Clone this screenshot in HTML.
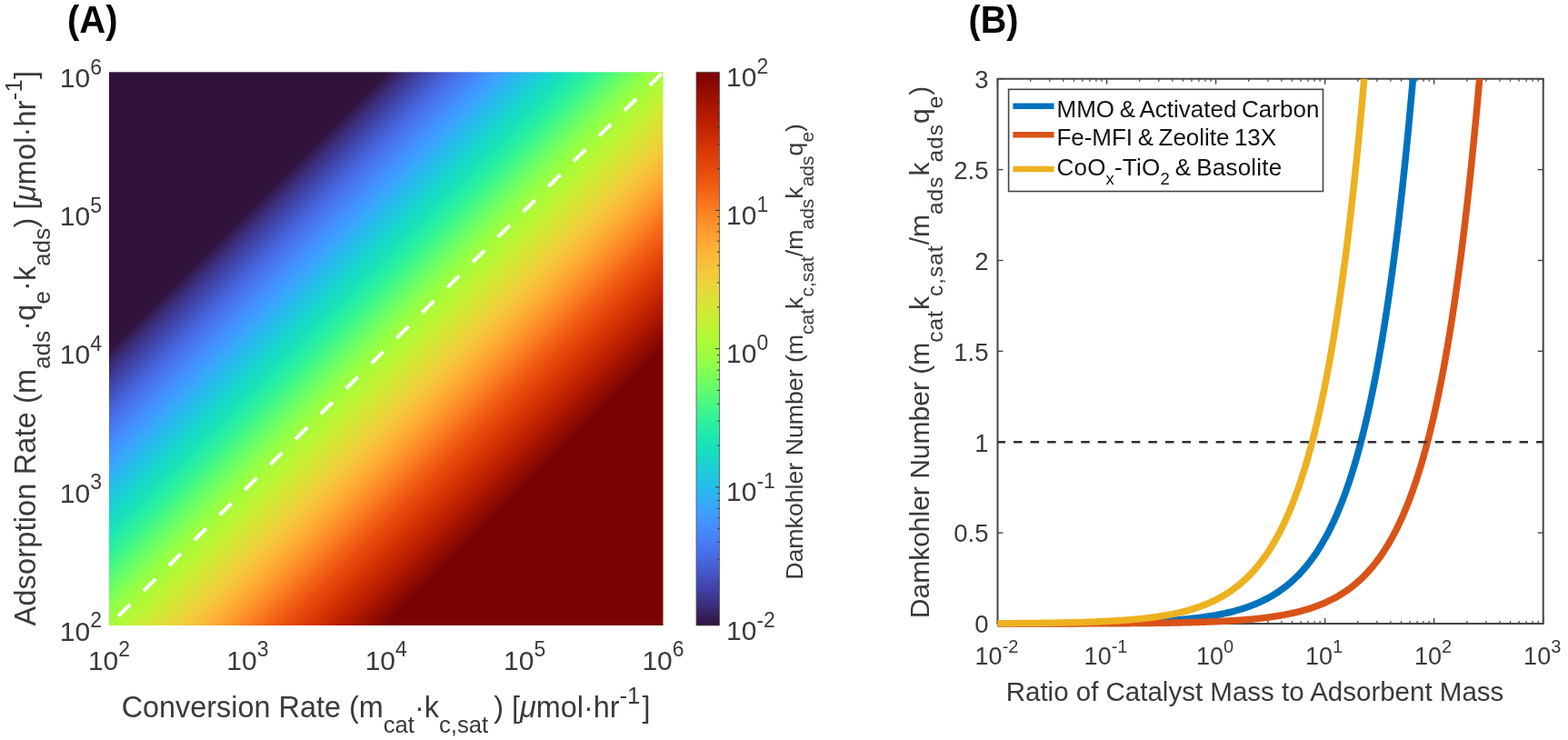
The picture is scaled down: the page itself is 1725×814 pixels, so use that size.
<!DOCTYPE html>
<html><head><meta charset="utf-8"><title>Figure</title>
<style>html,body{margin:0;padding:0;background:#fff;overflow:hidden}svg{display:block}
text{font-family:'Liberation Sans', Arial, sans-serif}</style></head>
<body>
<svg width="1725" height="814" viewBox="0 0 1725 814">
<defs>
<linearGradient id="hm" gradientUnits="userSpaceOnUse" x1="120.00" y1="79.30" x2="728.70" y2="688.80">
<stop offset="0" stop-color="#30123b"/><stop offset="0.2500" stop-color="#30123b"/><stop offset="0.2578" stop-color="#351e58"/><stop offset="0.2656" stop-color="#392a73"/><stop offset="0.2734" stop-color="#3d358b"/><stop offset="0.2812" stop-color="#4040a2"/><stop offset="0.2891" stop-color="#424bb5"/><stop offset="0.2969" stop-color="#4456c7"/><stop offset="0.3047" stop-color="#4661d6"/><stop offset="0.3125" stop-color="#466be3"/><stop offset="0.3203" stop-color="#4776ee"/><stop offset="0.3281" stop-color="#4680f6"/><stop offset="0.3359" stop-color="#458afc"/><stop offset="0.3438" stop-color="#4294ff"/><stop offset="0.3516" stop-color="#3d9efe"/><stop offset="0.3594" stop-color="#37a8fa"/><stop offset="0.3672" stop-color="#2fb2f4"/><stop offset="0.3750" stop-color="#28bceb"/><stop offset="0.3828" stop-color="#22c5e2"/><stop offset="0.3906" stop-color="#1ccdd8"/><stop offset="0.3984" stop-color="#19d5cd"/><stop offset="0.4062" stop-color="#18ddc2"/><stop offset="0.4141" stop-color="#19e3b9"/><stop offset="0.4219" stop-color="#1fe9af"/><stop offset="0.4297" stop-color="#27eea4"/><stop offset="0.4375" stop-color="#32f298"/><stop offset="0.4453" stop-color="#3ff68a"/><stop offset="0.4531" stop-color="#4ef97d"/><stop offset="0.4609" stop-color="#5dfc6f"/><stop offset="0.4688" stop-color="#6dfe62"/><stop offset="0.4766" stop-color="#7dff56"/><stop offset="0.4844" stop-color="#8bff4b"/><stop offset="0.4922" stop-color="#99fe42"/><stop offset="0.5000" stop-color="#a4fc3c"/><stop offset="0.5078" stop-color="#affa37"/><stop offset="0.5156" stop-color="#b9f635"/><stop offset="0.5234" stop-color="#c3f134"/><stop offset="0.5312" stop-color="#cdec34"/><stop offset="0.5391" stop-color="#d7e535"/><stop offset="0.5469" stop-color="#dfdf37"/><stop offset="0.5547" stop-color="#e7d739"/><stop offset="0.5625" stop-color="#eecf3a"/><stop offset="0.5703" stop-color="#f4c73a"/><stop offset="0.5781" stop-color="#f8be39"/><stop offset="0.5859" stop-color="#fbb637"/><stop offset="0.5938" stop-color="#fdac34"/><stop offset="0.6016" stop-color="#fea130"/><stop offset="0.6094" stop-color="#fe962b"/><stop offset="0.6172" stop-color="#fd8a26"/><stop offset="0.6250" stop-color="#fb7e21"/><stop offset="0.6328" stop-color="#f8721c"/><stop offset="0.6406" stop-color="#f46617"/><stop offset="0.6484" stop-color="#f05b12"/><stop offset="0.6562" stop-color="#eb500e"/><stop offset="0.6641" stop-color="#e5470b"/><stop offset="0.6719" stop-color="#df3f08"/><stop offset="0.6797" stop-color="#d83706"/><stop offset="0.6875" stop-color="#d02f05"/><stop offset="0.6953" stop-color="#c82803"/><stop offset="0.7031" stop-color="#be2102"/><stop offset="0.7109" stop-color="#b41b01"/><stop offset="0.7188" stop-color="#a91601"/><stop offset="0.7266" stop-color="#9e1001"/><stop offset="0.7344" stop-color="#920b01"/><stop offset="0.7422" stop-color="#850702"/><stop offset="0.7500" stop-color="#7a0403"/><stop offset="1" stop-color="#7a0403"/>
</linearGradient>
<linearGradient id="cb" x1="0" y1="0" x2="0" y2="1">
<stop offset="0.0000" stop-color="#7a0403"/><stop offset="0.0156" stop-color="#850702"/><stop offset="0.0312" stop-color="#920b01"/><stop offset="0.0469" stop-color="#9e1001"/><stop offset="0.0625" stop-color="#a91601"/><stop offset="0.0781" stop-color="#b41b01"/><stop offset="0.0938" stop-color="#be2102"/><stop offset="0.1094" stop-color="#c82803"/><stop offset="0.1250" stop-color="#d02f05"/><stop offset="0.1406" stop-color="#d83706"/><stop offset="0.1562" stop-color="#df3f08"/><stop offset="0.1719" stop-color="#e5470b"/><stop offset="0.1875" stop-color="#eb500e"/><stop offset="0.2031" stop-color="#f05b12"/><stop offset="0.2188" stop-color="#f46617"/><stop offset="0.2344" stop-color="#f8721c"/><stop offset="0.2500" stop-color="#fb7e21"/><stop offset="0.2656" stop-color="#fd8a26"/><stop offset="0.2812" stop-color="#fe962b"/><stop offset="0.2969" stop-color="#fea130"/><stop offset="0.3125" stop-color="#fdac34"/><stop offset="0.3281" stop-color="#fbb637"/><stop offset="0.3438" stop-color="#f8be39"/><stop offset="0.3594" stop-color="#f4c73a"/><stop offset="0.3750" stop-color="#eecf3a"/><stop offset="0.3906" stop-color="#e7d739"/><stop offset="0.4062" stop-color="#dfdf37"/><stop offset="0.4219" stop-color="#d7e535"/><stop offset="0.4375" stop-color="#cdec34"/><stop offset="0.4531" stop-color="#c3f134"/><stop offset="0.4688" stop-color="#b9f635"/><stop offset="0.4844" stop-color="#affa37"/><stop offset="0.5000" stop-color="#a4fc3c"/><stop offset="0.5156" stop-color="#99fe42"/><stop offset="0.5312" stop-color="#8bff4b"/><stop offset="0.5469" stop-color="#7dff56"/><stop offset="0.5625" stop-color="#6dfe62"/><stop offset="0.5781" stop-color="#5dfc6f"/><stop offset="0.5938" stop-color="#4ef97d"/><stop offset="0.6094" stop-color="#3ff68a"/><stop offset="0.6250" stop-color="#32f298"/><stop offset="0.6406" stop-color="#27eea4"/><stop offset="0.6562" stop-color="#1fe9af"/><stop offset="0.6719" stop-color="#19e3b9"/><stop offset="0.6875" stop-color="#18ddc2"/><stop offset="0.7031" stop-color="#19d5cd"/><stop offset="0.7188" stop-color="#1ccdd8"/><stop offset="0.7344" stop-color="#22c5e2"/><stop offset="0.7500" stop-color="#28bceb"/><stop offset="0.7656" stop-color="#2fb2f4"/><stop offset="0.7812" stop-color="#37a8fa"/><stop offset="0.7969" stop-color="#3d9efe"/><stop offset="0.8125" stop-color="#4294ff"/><stop offset="0.8281" stop-color="#458afc"/><stop offset="0.8438" stop-color="#4680f6"/><stop offset="0.8594" stop-color="#4776ee"/><stop offset="0.8750" stop-color="#466be3"/><stop offset="0.8906" stop-color="#4661d6"/><stop offset="0.9062" stop-color="#4456c7"/><stop offset="0.9219" stop-color="#424bb5"/><stop offset="0.9375" stop-color="#4040a2"/><stop offset="0.9531" stop-color="#3d358b"/><stop offset="0.9688" stop-color="#392a73"/><stop offset="0.9844" stop-color="#351e58"/><stop offset="1.0000" stop-color="#30123b"/>
</linearGradient>
</defs>
<rect width="1725" height="814" fill="#fff"/>

<text x="74" y="35.5" font-size="42" font-weight="bold" fill="#050505" textLength="55.5" lengthAdjust="spacingAndGlyphs">(A)</text>
<text x="1065.5" y="35.5" font-size="42" font-weight="bold" fill="#050505" textLength="55" lengthAdjust="spacingAndGlyphs">(B)</text>
<rect x="120.0" y="79.3" width="609.50" height="608.70" fill="url(#hm)"/>
<line x1="120.0" y1="688.0" x2="729.5" y2="79.3" stroke="#fff" stroke-width="4.2" stroke-dasharray="18.5 20.84" stroke-dashoffset="-14.5" stroke-opacity="0.95"/>
<text x="120.00" y="737.00" font-size="30" text-anchor="middle" fill="#3a3a3a">10<tspan dy="-15.00" font-size="23">2</tspan></text>
<text x="272.38" y="737.00" font-size="30" text-anchor="middle" fill="#3a3a3a">10<tspan dy="-15.00" font-size="23">3</tspan></text>
<text x="424.75" y="737.00" font-size="30" text-anchor="middle" fill="#3a3a3a">10<tspan dy="-15.00" font-size="23">4</tspan></text>
<text x="577.12" y="737.00" font-size="30" text-anchor="middle" fill="#3a3a3a">10<tspan dy="-15.00" font-size="23">5</tspan></text>
<text x="729.50" y="737.00" font-size="30" text-anchor="middle" fill="#3a3a3a">10<tspan dy="-15.00" font-size="23">6</tspan></text>
<text x="112.00" y="704.70" font-size="30" text-anchor="end" fill="#3a3a3a">10<tspan dy="-14.50" font-size="23">2</tspan></text>
<text x="112.00" y="552.53" font-size="30" text-anchor="end" fill="#3a3a3a">10<tspan dy="-14.50" font-size="23">3</tspan></text>
<text x="112.00" y="400.35" font-size="30" text-anchor="end" fill="#3a3a3a">10<tspan dy="-14.50" font-size="23">4</tspan></text>
<text x="112.00" y="248.17" font-size="30" text-anchor="end" fill="#3a3a3a">10<tspan dy="-14.50" font-size="23">5</tspan></text>
<text x="112.00" y="96.00" font-size="30" text-anchor="end" fill="#3a3a3a">10<tspan dy="-14.50" font-size="23">6</tspan></text>
<text x="133.70" y="789.00" font-size="32.4" text-anchor="start" fill="#3a3a3a"><tspan >Conversion Rate (m</tspan><tspan dy="16.50" font-size="25.7">cat</tspan><tspan dy="-16.50">·k</tspan><tspan dy="16.50" font-size="25.7">c,sat</tspan><tspan dy="-16.50" dx="6.00">) [</tspan><tspan font-style="italic">μ</tspan><tspan >mol·hr</tspan><tspan dy="-15.00" font-size="25.7">-1</tspan><tspan dy="15.00" dx="2.00">]</tspan></text>
<text transform="translate(38.50,688.40) rotate(-90)" font-size="32.4" text-anchor="start" fill="#3a3a3a"><tspan letter-spacing="0.2">Adsorption Rate (m</tspan><tspan dy="16.50" font-size="25.7" letter-spacing="0.2">ads</tspan><tspan dy="-16.50" letter-spacing="0.2">·q</tspan><tspan dy="16.50" font-size="25.7" letter-spacing="0.2">e</tspan><tspan dy="-16.50" letter-spacing="0.2">·k</tspan><tspan dy="16.50" font-size="25.7" letter-spacing="0.2">ads</tspan><tspan dy="-16.50" letter-spacing="0.2">) [</tspan><tspan letter-spacing="0.2" font-style="italic">μ</tspan><tspan letter-spacing="0.2">mol·hr</tspan><tspan dy="-15.00" font-size="25.7" letter-spacing="0.2">-1</tspan><tspan dy="15.00" letter-spacing="0.2">]</tspan></text>
<rect x="766.0" y="79.3" width="25.5" height="608.70" fill="url(#cb)" stroke="#555" stroke-width="0.8"/>
<line x1="789.0" y1="642.19" x2="791.5" y2="642.19" stroke="#333" stroke-width="1"/>
<line x1="789.0" y1="615.39" x2="791.5" y2="615.39" stroke="#333" stroke-width="1"/>
<line x1="789.0" y1="596.38" x2="791.5" y2="596.38" stroke="#333" stroke-width="1"/>
<line x1="789.0" y1="581.63" x2="791.5" y2="581.63" stroke="#333" stroke-width="1"/>
<line x1="789.0" y1="569.58" x2="791.5" y2="569.58" stroke="#333" stroke-width="1"/>
<line x1="789.0" y1="559.40" x2="791.5" y2="559.40" stroke="#333" stroke-width="1"/>
<line x1="789.0" y1="550.57" x2="791.5" y2="550.57" stroke="#333" stroke-width="1"/>
<line x1="789.0" y1="542.79" x2="791.5" y2="542.79" stroke="#333" stroke-width="1"/>
<line x1="787.0" y1="535.83" x2="791.5" y2="535.83" stroke="#333" stroke-width="1"/>
<line x1="789.0" y1="490.02" x2="791.5" y2="490.02" stroke="#333" stroke-width="1"/>
<line x1="789.0" y1="463.22" x2="791.5" y2="463.22" stroke="#333" stroke-width="1"/>
<line x1="789.0" y1="444.21" x2="791.5" y2="444.21" stroke="#333" stroke-width="1"/>
<line x1="789.0" y1="429.46" x2="791.5" y2="429.46" stroke="#333" stroke-width="1"/>
<line x1="789.0" y1="417.41" x2="791.5" y2="417.41" stroke="#333" stroke-width="1"/>
<line x1="789.0" y1="407.22" x2="791.5" y2="407.22" stroke="#333" stroke-width="1"/>
<line x1="789.0" y1="398.40" x2="791.5" y2="398.40" stroke="#333" stroke-width="1"/>
<line x1="789.0" y1="390.61" x2="791.5" y2="390.61" stroke="#333" stroke-width="1"/>
<line x1="787.0" y1="383.65" x2="791.5" y2="383.65" stroke="#333" stroke-width="1"/>
<line x1="789.0" y1="337.84" x2="791.5" y2="337.84" stroke="#333" stroke-width="1"/>
<line x1="789.0" y1="311.04" x2="791.5" y2="311.04" stroke="#333" stroke-width="1"/>
<line x1="789.0" y1="292.03" x2="791.5" y2="292.03" stroke="#333" stroke-width="1"/>
<line x1="789.0" y1="277.28" x2="791.5" y2="277.28" stroke="#333" stroke-width="1"/>
<line x1="789.0" y1="265.23" x2="791.5" y2="265.23" stroke="#333" stroke-width="1"/>
<line x1="789.0" y1="255.05" x2="791.5" y2="255.05" stroke="#333" stroke-width="1"/>
<line x1="789.0" y1="246.22" x2="791.5" y2="246.22" stroke="#333" stroke-width="1"/>
<line x1="789.0" y1="238.44" x2="791.5" y2="238.44" stroke="#333" stroke-width="1"/>
<line x1="787.0" y1="231.47" x2="791.5" y2="231.47" stroke="#333" stroke-width="1"/>
<line x1="789.0" y1="185.67" x2="791.5" y2="185.67" stroke="#333" stroke-width="1"/>
<line x1="789.0" y1="158.87" x2="791.5" y2="158.87" stroke="#333" stroke-width="1"/>
<line x1="789.0" y1="139.86" x2="791.5" y2="139.86" stroke="#333" stroke-width="1"/>
<line x1="789.0" y1="125.11" x2="791.5" y2="125.11" stroke="#333" stroke-width="1"/>
<line x1="789.0" y1="113.06" x2="791.5" y2="113.06" stroke="#333" stroke-width="1"/>
<line x1="789.0" y1="102.87" x2="791.5" y2="102.87" stroke="#333" stroke-width="1"/>
<line x1="789.0" y1="94.05" x2="791.5" y2="94.05" stroke="#333" stroke-width="1"/>
<line x1="789.0" y1="86.26" x2="791.5" y2="86.26" stroke="#333" stroke-width="1"/>
<text x="799.00" y="703.50" font-size="30" text-anchor="start" fill="#3a3a3a">10<tspan dy="-14.00" font-size="23">-2</tspan></text>
<text x="799.00" y="551.33" font-size="30" text-anchor="start" fill="#3a3a3a">10<tspan dy="-14.00" font-size="23">-1</tspan></text>
<text x="799.00" y="399.15" font-size="30" text-anchor="start" fill="#3a3a3a">10<tspan dy="-14.00" font-size="23">0</tspan></text>
<text x="799.00" y="246.97" font-size="30" text-anchor="start" fill="#3a3a3a">10<tspan dy="-14.00" font-size="23">1</tspan></text>
<text x="799.00" y="94.80" font-size="30" text-anchor="start" fill="#3a3a3a">10<tspan dy="-14.00" font-size="23">2</tspan></text>
<text transform="translate(883.00,637.80) rotate(-90)" font-size="26.7" text-anchor="start" fill="#3a3a3a"><tspan >Damkohler Number (m</tspan><tspan dy="12.30" font-size="21">cat</tspan><tspan dy="-12.30">k</tspan><tspan dy="12.30" font-size="21">c,sat</tspan><tspan dy="-12.30">/m</tspan><tspan dy="12.30" font-size="21">ads</tspan><tspan dy="-12.30">k</tspan><tspan dy="12.30" font-size="21">ads</tspan><tspan dy="-12.30">q</tspan><tspan dy="12.30" font-size="21">e</tspan><tspan dy="-12.30">)</tspan></text>
<rect x="1097.5" y="86.7" width="600.20" height="599.30" fill="none" stroke="#454545" stroke-width="2"/>
<line x1="1097.50" y1="686.0" x2="1097.50" y2="680.0" stroke="#454545" stroke-width="1.4"/>
<line x1="1097.50" y1="86.7" x2="1097.50" y2="92.7" stroke="#454545" stroke-width="1.4"/>
<line x1="1133.64" y1="686.0" x2="1133.64" y2="683.0" stroke="#454545" stroke-width="1.3"/>
<line x1="1133.64" y1="86.7" x2="1133.64" y2="89.7" stroke="#454545" stroke-width="1.3"/>
<line x1="1154.77" y1="686.0" x2="1154.77" y2="683.0" stroke="#454545" stroke-width="1.3"/>
<line x1="1154.77" y1="86.7" x2="1154.77" y2="89.7" stroke="#454545" stroke-width="1.3"/>
<line x1="1169.77" y1="686.0" x2="1169.77" y2="683.0" stroke="#454545" stroke-width="1.3"/>
<line x1="1169.77" y1="86.7" x2="1169.77" y2="89.7" stroke="#454545" stroke-width="1.3"/>
<line x1="1181.40" y1="686.0" x2="1181.40" y2="683.0" stroke="#454545" stroke-width="1.3"/>
<line x1="1181.40" y1="86.7" x2="1181.40" y2="89.7" stroke="#454545" stroke-width="1.3"/>
<line x1="1190.91" y1="686.0" x2="1190.91" y2="683.0" stroke="#454545" stroke-width="1.3"/>
<line x1="1190.91" y1="86.7" x2="1190.91" y2="89.7" stroke="#454545" stroke-width="1.3"/>
<line x1="1198.95" y1="686.0" x2="1198.95" y2="683.0" stroke="#454545" stroke-width="1.3"/>
<line x1="1198.95" y1="86.7" x2="1198.95" y2="89.7" stroke="#454545" stroke-width="1.3"/>
<line x1="1205.91" y1="686.0" x2="1205.91" y2="683.0" stroke="#454545" stroke-width="1.3"/>
<line x1="1205.91" y1="86.7" x2="1205.91" y2="89.7" stroke="#454545" stroke-width="1.3"/>
<line x1="1212.05" y1="686.0" x2="1212.05" y2="683.0" stroke="#454545" stroke-width="1.3"/>
<line x1="1212.05" y1="86.7" x2="1212.05" y2="89.7" stroke="#454545" stroke-width="1.3"/>
<line x1="1217.54" y1="686.0" x2="1217.54" y2="680.0" stroke="#454545" stroke-width="1.4"/>
<line x1="1217.54" y1="86.7" x2="1217.54" y2="92.7" stroke="#454545" stroke-width="1.4"/>
<line x1="1253.68" y1="686.0" x2="1253.68" y2="683.0" stroke="#454545" stroke-width="1.3"/>
<line x1="1253.68" y1="86.7" x2="1253.68" y2="89.7" stroke="#454545" stroke-width="1.3"/>
<line x1="1274.81" y1="686.0" x2="1274.81" y2="683.0" stroke="#454545" stroke-width="1.3"/>
<line x1="1274.81" y1="86.7" x2="1274.81" y2="89.7" stroke="#454545" stroke-width="1.3"/>
<line x1="1289.81" y1="686.0" x2="1289.81" y2="683.0" stroke="#454545" stroke-width="1.3"/>
<line x1="1289.81" y1="86.7" x2="1289.81" y2="89.7" stroke="#454545" stroke-width="1.3"/>
<line x1="1301.44" y1="686.0" x2="1301.44" y2="683.0" stroke="#454545" stroke-width="1.3"/>
<line x1="1301.44" y1="86.7" x2="1301.44" y2="89.7" stroke="#454545" stroke-width="1.3"/>
<line x1="1310.95" y1="686.0" x2="1310.95" y2="683.0" stroke="#454545" stroke-width="1.3"/>
<line x1="1310.95" y1="86.7" x2="1310.95" y2="89.7" stroke="#454545" stroke-width="1.3"/>
<line x1="1318.99" y1="686.0" x2="1318.99" y2="683.0" stroke="#454545" stroke-width="1.3"/>
<line x1="1318.99" y1="86.7" x2="1318.99" y2="89.7" stroke="#454545" stroke-width="1.3"/>
<line x1="1325.95" y1="686.0" x2="1325.95" y2="683.0" stroke="#454545" stroke-width="1.3"/>
<line x1="1325.95" y1="86.7" x2="1325.95" y2="89.7" stroke="#454545" stroke-width="1.3"/>
<line x1="1332.09" y1="686.0" x2="1332.09" y2="683.0" stroke="#454545" stroke-width="1.3"/>
<line x1="1332.09" y1="86.7" x2="1332.09" y2="89.7" stroke="#454545" stroke-width="1.3"/>
<line x1="1337.58" y1="686.0" x2="1337.58" y2="680.0" stroke="#454545" stroke-width="1.4"/>
<line x1="1337.58" y1="86.7" x2="1337.58" y2="92.7" stroke="#454545" stroke-width="1.4"/>
<line x1="1373.72" y1="686.0" x2="1373.72" y2="683.0" stroke="#454545" stroke-width="1.3"/>
<line x1="1373.72" y1="86.7" x2="1373.72" y2="89.7" stroke="#454545" stroke-width="1.3"/>
<line x1="1394.85" y1="686.0" x2="1394.85" y2="683.0" stroke="#454545" stroke-width="1.3"/>
<line x1="1394.85" y1="86.7" x2="1394.85" y2="89.7" stroke="#454545" stroke-width="1.3"/>
<line x1="1409.85" y1="686.0" x2="1409.85" y2="683.0" stroke="#454545" stroke-width="1.3"/>
<line x1="1409.85" y1="86.7" x2="1409.85" y2="89.7" stroke="#454545" stroke-width="1.3"/>
<line x1="1421.48" y1="686.0" x2="1421.48" y2="683.0" stroke="#454545" stroke-width="1.3"/>
<line x1="1421.48" y1="86.7" x2="1421.48" y2="89.7" stroke="#454545" stroke-width="1.3"/>
<line x1="1430.99" y1="686.0" x2="1430.99" y2="683.0" stroke="#454545" stroke-width="1.3"/>
<line x1="1430.99" y1="86.7" x2="1430.99" y2="89.7" stroke="#454545" stroke-width="1.3"/>
<line x1="1439.03" y1="686.0" x2="1439.03" y2="683.0" stroke="#454545" stroke-width="1.3"/>
<line x1="1439.03" y1="86.7" x2="1439.03" y2="89.7" stroke="#454545" stroke-width="1.3"/>
<line x1="1445.99" y1="686.0" x2="1445.99" y2="683.0" stroke="#454545" stroke-width="1.3"/>
<line x1="1445.99" y1="86.7" x2="1445.99" y2="89.7" stroke="#454545" stroke-width="1.3"/>
<line x1="1452.13" y1="686.0" x2="1452.13" y2="683.0" stroke="#454545" stroke-width="1.3"/>
<line x1="1452.13" y1="86.7" x2="1452.13" y2="89.7" stroke="#454545" stroke-width="1.3"/>
<line x1="1457.62" y1="686.0" x2="1457.62" y2="680.0" stroke="#454545" stroke-width="1.4"/>
<line x1="1457.62" y1="86.7" x2="1457.62" y2="92.7" stroke="#454545" stroke-width="1.4"/>
<line x1="1493.76" y1="686.0" x2="1493.76" y2="683.0" stroke="#454545" stroke-width="1.3"/>
<line x1="1493.76" y1="86.7" x2="1493.76" y2="89.7" stroke="#454545" stroke-width="1.3"/>
<line x1="1514.89" y1="686.0" x2="1514.89" y2="683.0" stroke="#454545" stroke-width="1.3"/>
<line x1="1514.89" y1="86.7" x2="1514.89" y2="89.7" stroke="#454545" stroke-width="1.3"/>
<line x1="1529.89" y1="686.0" x2="1529.89" y2="683.0" stroke="#454545" stroke-width="1.3"/>
<line x1="1529.89" y1="86.7" x2="1529.89" y2="89.7" stroke="#454545" stroke-width="1.3"/>
<line x1="1541.52" y1="686.0" x2="1541.52" y2="683.0" stroke="#454545" stroke-width="1.3"/>
<line x1="1541.52" y1="86.7" x2="1541.52" y2="89.7" stroke="#454545" stroke-width="1.3"/>
<line x1="1551.03" y1="686.0" x2="1551.03" y2="683.0" stroke="#454545" stroke-width="1.3"/>
<line x1="1551.03" y1="86.7" x2="1551.03" y2="89.7" stroke="#454545" stroke-width="1.3"/>
<line x1="1559.07" y1="686.0" x2="1559.07" y2="683.0" stroke="#454545" stroke-width="1.3"/>
<line x1="1559.07" y1="86.7" x2="1559.07" y2="89.7" stroke="#454545" stroke-width="1.3"/>
<line x1="1566.03" y1="686.0" x2="1566.03" y2="683.0" stroke="#454545" stroke-width="1.3"/>
<line x1="1566.03" y1="86.7" x2="1566.03" y2="89.7" stroke="#454545" stroke-width="1.3"/>
<line x1="1572.17" y1="686.0" x2="1572.17" y2="683.0" stroke="#454545" stroke-width="1.3"/>
<line x1="1572.17" y1="86.7" x2="1572.17" y2="89.7" stroke="#454545" stroke-width="1.3"/>
<line x1="1577.66" y1="686.0" x2="1577.66" y2="680.0" stroke="#454545" stroke-width="1.4"/>
<line x1="1577.66" y1="86.7" x2="1577.66" y2="92.7" stroke="#454545" stroke-width="1.4"/>
<line x1="1613.80" y1="686.0" x2="1613.80" y2="683.0" stroke="#454545" stroke-width="1.3"/>
<line x1="1613.80" y1="86.7" x2="1613.80" y2="89.7" stroke="#454545" stroke-width="1.3"/>
<line x1="1634.93" y1="686.0" x2="1634.93" y2="683.0" stroke="#454545" stroke-width="1.3"/>
<line x1="1634.93" y1="86.7" x2="1634.93" y2="89.7" stroke="#454545" stroke-width="1.3"/>
<line x1="1649.93" y1="686.0" x2="1649.93" y2="683.0" stroke="#454545" stroke-width="1.3"/>
<line x1="1649.93" y1="86.7" x2="1649.93" y2="89.7" stroke="#454545" stroke-width="1.3"/>
<line x1="1661.56" y1="686.0" x2="1661.56" y2="683.0" stroke="#454545" stroke-width="1.3"/>
<line x1="1661.56" y1="86.7" x2="1661.56" y2="89.7" stroke="#454545" stroke-width="1.3"/>
<line x1="1671.07" y1="686.0" x2="1671.07" y2="683.0" stroke="#454545" stroke-width="1.3"/>
<line x1="1671.07" y1="86.7" x2="1671.07" y2="89.7" stroke="#454545" stroke-width="1.3"/>
<line x1="1679.11" y1="686.0" x2="1679.11" y2="683.0" stroke="#454545" stroke-width="1.3"/>
<line x1="1679.11" y1="86.7" x2="1679.11" y2="89.7" stroke="#454545" stroke-width="1.3"/>
<line x1="1686.07" y1="686.0" x2="1686.07" y2="683.0" stroke="#454545" stroke-width="1.3"/>
<line x1="1686.07" y1="86.7" x2="1686.07" y2="89.7" stroke="#454545" stroke-width="1.3"/>
<line x1="1692.21" y1="686.0" x2="1692.21" y2="683.0" stroke="#454545" stroke-width="1.3"/>
<line x1="1692.21" y1="86.7" x2="1692.21" y2="89.7" stroke="#454545" stroke-width="1.3"/>
<line x1="1697.70" y1="686.0" x2="1697.70" y2="680.0" stroke="#454545" stroke-width="1.4"/>
<line x1="1697.70" y1="86.7" x2="1697.70" y2="92.7" stroke="#454545" stroke-width="1.4"/>
<line x1="1097.5" y1="686.00" x2="1103.5" y2="686.00" stroke="#454545" stroke-width="1.4"/>
<line x1="1697.7" y1="686.00" x2="1691.7" y2="686.00" stroke="#454545" stroke-width="1.4"/>
<text x="1087.5" y="696.30" font-size="27.5" text-anchor="end" fill="#3a3a3a">0</text>
<line x1="1097.5" y1="586.12" x2="1103.5" y2="586.12" stroke="#454545" stroke-width="1.4"/>
<line x1="1697.7" y1="586.12" x2="1691.7" y2="586.12" stroke="#454545" stroke-width="1.4"/>
<text x="1087.5" y="596.42" font-size="27.5" text-anchor="end" fill="#3a3a3a">0.5</text>
<line x1="1097.5" y1="486.23" x2="1103.5" y2="486.23" stroke="#454545" stroke-width="1.4"/>
<line x1="1697.7" y1="486.23" x2="1691.7" y2="486.23" stroke="#454545" stroke-width="1.4"/>
<text x="1087.5" y="496.53" font-size="27.5" text-anchor="end" fill="#3a3a3a">1</text>
<line x1="1097.5" y1="386.35" x2="1103.5" y2="386.35" stroke="#454545" stroke-width="1.4"/>
<line x1="1697.7" y1="386.35" x2="1691.7" y2="386.35" stroke="#454545" stroke-width="1.4"/>
<text x="1087.5" y="396.65" font-size="27.5" text-anchor="end" fill="#3a3a3a">1.5</text>
<line x1="1097.5" y1="286.47" x2="1103.5" y2="286.47" stroke="#454545" stroke-width="1.4"/>
<line x1="1697.7" y1="286.47" x2="1691.7" y2="286.47" stroke="#454545" stroke-width="1.4"/>
<text x="1087.5" y="296.77" font-size="27.5" text-anchor="end" fill="#3a3a3a">2</text>
<line x1="1097.5" y1="186.58" x2="1103.5" y2="186.58" stroke="#454545" stroke-width="1.4"/>
<line x1="1697.7" y1="186.58" x2="1691.7" y2="186.58" stroke="#454545" stroke-width="1.4"/>
<text x="1087.5" y="196.88" font-size="27.5" text-anchor="end" fill="#3a3a3a">2.5</text>
<line x1="1097.5" y1="86.70" x2="1103.5" y2="86.70" stroke="#454545" stroke-width="1.4"/>
<line x1="1697.7" y1="86.70" x2="1691.7" y2="86.70" stroke="#454545" stroke-width="1.4"/>
<text x="1087.5" y="97.00" font-size="27.5" text-anchor="end" fill="#3a3a3a">3</text>
<svg x="1097.5" y="86.7" width="600.20" height="605.30" viewBox="1097.5 86.7 600.20 605.30" overflow="hidden">
<path d="M1097.50,685.91 L1098.50,685.90 L1099.50,685.90 L1100.50,685.90 L1101.50,685.90 L1102.50,685.90 L1103.50,685.90 L1104.50,685.89 L1105.50,685.89 L1106.50,685.89 L1107.50,685.89 L1108.50,685.88 L1109.50,685.88 L1110.50,685.88 L1111.50,685.88 L1112.51,685.88 L1113.51,685.87 L1114.51,685.87 L1115.51,685.87 L1116.51,685.87 L1117.51,685.86 L1118.51,685.86 L1119.51,685.86 L1120.51,685.85 L1121.51,685.85 L1122.51,685.85 L1123.51,685.85 L1124.51,685.84 L1125.51,685.84 L1126.51,685.84 L1127.51,685.83 L1128.51,685.83 L1129.51,685.83 L1130.51,685.82 L1131.51,685.82 L1132.51,685.82 L1133.51,685.81 L1134.51,685.81 L1135.51,685.81 L1136.51,685.80 L1137.51,685.80 L1138.51,685.79 L1139.51,685.79 L1140.51,685.79 L1141.51,685.78 L1142.52,685.78 L1143.52,685.77 L1144.52,685.77 L1145.52,685.76 L1146.52,685.76 L1147.52,685.76 L1148.52,685.75 L1149.52,685.75 L1150.52,685.74 L1151.52,685.74 L1152.52,685.73 L1153.52,685.73 L1154.52,685.72 L1155.52,685.72 L1156.52,685.71 L1157.52,685.70 L1158.52,685.70 L1159.52,685.69 L1160.52,685.69 L1161.52,685.68 L1162.52,685.67 L1163.52,685.67 L1164.52,685.66 L1165.52,685.66 L1166.52,685.65 L1167.52,685.64 L1168.52,685.63 L1169.52,685.63 L1170.52,685.62 L1171.52,685.61 L1172.53,685.61 L1173.53,685.60 L1174.53,685.59 L1175.53,685.58 L1176.53,685.57 L1177.53,685.57 L1178.53,685.56 L1179.53,685.55 L1180.53,685.54 L1181.53,685.53 L1182.53,685.52 L1183.53,685.51 L1184.53,685.50 L1185.53,685.49 L1186.53,685.48 L1187.53,685.47 L1188.53,685.46 L1189.53,685.45 L1190.53,685.44 L1191.53,685.43 L1192.53,685.42 L1193.53,685.41 L1194.53,685.40 L1195.53,685.39 L1196.53,685.37 L1197.53,685.36 L1198.53,685.35 L1199.53,685.34 L1200.53,685.32 L1201.53,685.31 L1202.54,685.30 L1203.54,685.28 L1204.54,685.27 L1205.54,685.26 L1206.54,685.24 L1207.54,685.23 L1208.54,685.21 L1209.54,685.20 L1210.54,685.18 L1211.54,685.17 L1212.54,685.15 L1213.54,685.13 L1214.54,685.12 L1215.54,685.10 L1216.54,685.08 L1217.54,685.06 L1218.54,685.05 L1219.54,685.03 L1220.54,685.01 L1221.54,684.99 L1222.54,684.97 L1223.54,684.95 L1224.54,684.93 L1225.54,684.91 L1226.54,684.89 L1227.54,684.87 L1228.54,684.84 L1229.54,684.82 L1230.54,684.80 L1231.54,684.78 L1232.55,684.75 L1233.55,684.73 L1234.55,684.70 L1235.55,684.68 L1236.55,684.65 L1237.55,684.63 L1238.55,684.60 L1239.55,684.57 L1240.55,684.55 L1241.55,684.52 L1242.55,684.49 L1243.55,684.46 L1244.55,684.43 L1245.55,684.40 L1246.55,684.37 L1247.55,684.34 L1248.55,684.30 L1249.55,684.27 L1250.55,684.24 L1251.55,684.20 L1252.55,684.17 L1253.55,684.13 L1254.55,684.10 L1255.55,684.06 L1256.55,684.02 L1257.55,683.98 L1258.55,683.95 L1259.55,683.91 L1260.55,683.86 L1261.55,683.82 L1262.56,683.78 L1263.56,683.74 L1264.56,683.69 L1265.56,683.65 L1266.56,683.60 L1267.56,683.56 L1268.56,683.51 L1269.56,683.46 L1270.56,683.41 L1271.56,683.36 L1272.56,683.31 L1273.56,683.26 L1274.56,683.21 L1275.56,683.15 L1276.56,683.10 L1277.56,683.04 L1278.56,682.98 L1279.56,682.93 L1280.56,682.87 L1281.56,682.81 L1282.56,682.74 L1283.56,682.68 L1284.56,682.62 L1285.56,682.55 L1286.56,682.48 L1287.56,682.42 L1288.56,682.35 L1289.56,682.28 L1290.56,682.20 L1291.56,682.13 L1292.57,682.05 L1293.57,681.98 L1294.57,681.90 L1295.57,681.82 L1296.57,681.74 L1297.57,681.66 L1298.57,681.57 L1299.57,681.49 L1300.57,681.40 L1301.57,681.31 L1302.57,681.22 L1303.57,681.13 L1304.57,681.03 L1305.57,680.94 L1306.57,680.84 L1307.57,680.74 L1308.57,680.64 L1309.57,680.53 L1310.57,680.43 L1311.57,680.32 L1312.57,680.21 L1313.57,680.10 L1314.57,679.98 L1315.57,679.87 L1316.57,679.75 L1317.57,679.63 L1318.57,679.50 L1319.57,679.38 L1320.57,679.25 L1321.57,679.12 L1322.58,678.98 L1323.58,678.85 L1324.58,678.71 L1325.58,678.57 L1326.58,678.42 L1327.58,678.28 L1328.58,678.13 L1329.58,677.97 L1330.58,677.82 L1331.58,677.66 L1332.58,677.50 L1333.58,677.33 L1334.58,677.17 L1335.58,677.00 L1336.58,676.82 L1337.58,676.64 L1338.58,676.46 L1339.58,676.28 L1340.58,676.09 L1341.58,675.90 L1342.58,675.70 L1343.58,675.50 L1344.58,675.30 L1345.58,675.09 L1346.58,674.88 L1347.58,674.66 L1348.58,674.44 L1349.58,674.22 L1350.58,673.99 L1351.58,673.76 L1352.59,673.52 L1353.59,673.28 L1354.59,673.03 L1355.59,672.78 L1356.59,672.53 L1357.59,672.27 L1358.59,672.00 L1359.59,671.73 L1360.59,671.45 L1361.59,671.17 L1362.59,670.88 L1363.59,670.59 L1364.59,670.29 L1365.59,669.99 L1366.59,669.68 L1367.59,669.36 L1368.59,669.04 L1369.59,668.71 L1370.59,668.38 L1371.59,668.03 L1372.59,667.69 L1373.59,667.33 L1374.59,666.97 L1375.59,666.60 L1376.59,666.22 L1377.59,665.84 L1378.59,665.45 L1379.59,665.05 L1380.59,664.65 L1381.59,664.23 L1382.60,663.81 L1383.60,663.38 L1384.60,662.94 L1385.60,662.50 L1386.60,662.04 L1387.60,661.58 L1388.60,661.10 L1389.60,660.62 L1390.60,660.13 L1391.60,659.63 L1392.60,659.12 L1393.60,658.60 L1394.60,658.07 L1395.60,657.53 L1396.60,656.97 L1397.60,656.41 L1398.60,655.84 L1399.60,655.25 L1400.60,654.66 L1401.60,654.05 L1402.60,653.43 L1403.60,652.80 L1404.60,652.16 L1405.60,651.50 L1406.60,650.83 L1407.60,650.15 L1408.60,649.46 L1409.60,648.75 L1410.60,648.03 L1411.60,647.29 L1412.61,646.54 L1413.61,645.78 L1414.61,645.00 L1415.61,644.20 L1416.61,643.40 L1417.61,642.57 L1418.61,641.73 L1419.61,640.87 L1420.61,640.00 L1421.61,639.11 L1422.61,638.20 L1423.61,637.27 L1424.61,636.33 L1425.61,635.36 L1426.61,634.38 L1427.61,633.38 L1428.61,632.36 L1429.61,631.32 L1430.61,630.27 L1431.61,629.19 L1432.61,628.08 L1433.61,626.96 L1434.61,625.82 L1435.61,624.65 L1436.61,623.46 L1437.61,622.25 L1438.61,621.02 L1439.61,619.76 L1440.61,618.48 L1441.61,617.17 L1442.62,615.83 L1443.62,614.47 L1444.62,613.09 L1445.62,611.68 L1446.62,610.24 L1447.62,608.77 L1448.62,607.27 L1449.62,605.75 L1450.62,604.19 L1451.62,602.61 L1452.62,600.99 L1453.62,599.35 L1454.62,597.67 L1455.62,595.96 L1456.62,594.21 L1457.62,592.43 L1458.62,590.62 L1459.62,588.77 L1460.62,586.89 L1461.62,584.97 L1462.62,583.01 L1463.62,581.02 L1464.62,578.98 L1465.62,576.91 L1466.62,574.79 L1467.62,572.64 L1468.62,570.44 L1469.62,568.21 L1470.62,565.92 L1471.62,563.60 L1472.62,561.23 L1473.63,558.81 L1474.63,556.34 L1475.63,553.83 L1476.63,551.27 L1477.63,548.66 L1478.63,546.00 L1479.63,543.29 L1480.63,540.52 L1481.63,537.71 L1482.63,534.83 L1483.63,531.90 L1484.63,528.92 L1485.63,525.88 L1486.63,522.77 L1487.63,519.61 L1488.63,516.39 L1489.63,513.10 L1490.63,509.75 L1491.63,506.34 L1492.63,502.86 L1493.63,499.31 L1494.63,495.69 L1495.63,492.00 L1496.63,488.25 L1497.63,484.41 L1498.63,480.51 L1499.63,476.53 L1500.63,472.47 L1501.63,468.33 L1502.63,464.12 L1503.64,459.82 L1504.64,455.44 L1505.64,450.97 L1506.64,446.42 L1507.64,441.77 L1508.64,437.04 L1509.64,432.22 L1510.64,427.30 L1511.64,422.29 L1512.64,417.18 L1513.64,411.97 L1514.64,406.67 L1515.64,401.25 L1516.64,395.74 L1517.64,390.11 L1518.64,384.38 L1519.64,378.54 L1520.64,372.58 L1521.64,366.51 L1522.64,360.32 L1523.64,354.01 L1524.64,347.58 L1525.64,341.02 L1526.64,334.34 L1527.64,327.53 L1528.64,320.58 L1529.64,313.50 L1530.64,306.28 L1531.64,298.93 L1532.64,291.43 L1533.65,283.78 L1534.65,275.99 L1535.65,268.05 L1536.65,259.95 L1537.65,251.70 L1538.65,243.28 L1539.65,234.71 L1540.65,225.96 L1541.65,217.05 L1542.65,207.97 L1543.65,198.71 L1544.65,189.26 L1545.65,179.64 L1546.65,169.83 L1547.65,159.83 L1548.65,149.64 L1549.65,139.25 L1550.65,128.65 L1551.65,117.86 L1552.65,106.85 L1553.65,95.63 L1554.65,84.19 L1555.65,72.53 L1556.65,60.65 L1557.65,48.53 L1558.65,36.18" fill="none" stroke="#0072BD" stroke-width="7.5" stroke-linejoin="round" stroke-linecap="round"/>
<path d="M1097.50,685.98 L1098.50,685.98 L1099.50,685.98 L1100.50,685.98 L1101.50,685.98 L1102.50,685.97 L1103.50,685.97 L1104.50,685.97 L1105.50,685.97 L1106.50,685.97 L1107.50,685.97 L1108.50,685.97 L1109.50,685.97 L1110.50,685.97 L1111.50,685.97 L1112.51,685.97 L1113.51,685.97 L1114.51,685.97 L1115.51,685.97 L1116.51,685.97 L1117.51,685.97 L1118.51,685.97 L1119.51,685.96 L1120.51,685.96 L1121.51,685.96 L1122.51,685.96 L1123.51,685.96 L1124.51,685.96 L1125.51,685.96 L1126.51,685.96 L1127.51,685.96 L1128.51,685.96 L1129.51,685.96 L1130.51,685.96 L1131.51,685.96 L1132.51,685.96 L1133.51,685.95 L1134.51,685.95 L1135.51,685.95 L1136.51,685.95 L1137.51,685.95 L1138.51,685.95 L1139.51,685.95 L1140.51,685.95 L1141.51,685.95 L1142.52,685.95 L1143.52,685.94 L1144.52,685.94 L1145.52,685.94 L1146.52,685.94 L1147.52,685.94 L1148.52,685.94 L1149.52,685.94 L1150.52,685.94 L1151.52,685.94 L1152.52,685.93 L1153.52,685.93 L1154.52,685.93 L1155.52,685.93 L1156.52,685.93 L1157.52,685.93 L1158.52,685.93 L1159.52,685.92 L1160.52,685.92 L1161.52,685.92 L1162.52,685.92 L1163.52,685.92 L1164.52,685.92 L1165.52,685.92 L1166.52,685.91 L1167.52,685.91 L1168.52,685.91 L1169.52,685.91 L1170.52,685.91 L1171.52,685.91 L1172.53,685.90 L1173.53,685.90 L1174.53,685.90 L1175.53,685.90 L1176.53,685.90 L1177.53,685.89 L1178.53,685.89 L1179.53,685.89 L1180.53,685.89 L1181.53,685.88 L1182.53,685.88 L1183.53,685.88 L1184.53,685.88 L1185.53,685.88 L1186.53,685.87 L1187.53,685.87 L1188.53,685.87 L1189.53,685.87 L1190.53,685.86 L1191.53,685.86 L1192.53,685.86 L1193.53,685.86 L1194.53,685.85 L1195.53,685.85 L1196.53,685.85 L1197.53,685.84 L1198.53,685.84 L1199.53,685.84 L1200.53,685.83 L1201.53,685.83 L1202.54,685.83 L1203.54,685.82 L1204.54,685.82 L1205.54,685.82 L1206.54,685.81 L1207.54,685.81 L1208.54,685.81 L1209.54,685.80 L1210.54,685.80 L1211.54,685.80 L1212.54,685.79 L1213.54,685.79 L1214.54,685.78 L1215.54,685.78 L1216.54,685.77 L1217.54,685.77 L1218.54,685.77 L1219.54,685.76 L1220.54,685.76 L1221.54,685.75 L1222.54,685.75 L1223.54,685.74 L1224.54,685.74 L1225.54,685.73 L1226.54,685.73 L1227.54,685.72 L1228.54,685.72 L1229.54,685.71 L1230.54,685.71 L1231.54,685.70 L1232.55,685.69 L1233.55,685.69 L1234.55,685.68 L1235.55,685.68 L1236.55,685.67 L1237.55,685.66 L1238.55,685.66 L1239.55,685.65 L1240.55,685.64 L1241.55,685.64 L1242.55,685.63 L1243.55,685.62 L1244.55,685.61 L1245.55,685.61 L1246.55,685.60 L1247.55,685.59 L1248.55,685.58 L1249.55,685.58 L1250.55,685.57 L1251.55,685.56 L1252.55,685.55 L1253.55,685.54 L1254.55,685.53 L1255.55,685.52 L1256.55,685.51 L1257.55,685.51 L1258.55,685.50 L1259.55,685.49 L1260.55,685.48 L1261.55,685.47 L1262.56,685.46 L1263.56,685.44 L1264.56,685.43 L1265.56,685.42 L1266.56,685.41 L1267.56,685.40 L1268.56,685.39 L1269.56,685.38 L1270.56,685.37 L1271.56,685.35 L1272.56,685.34 L1273.56,685.33 L1274.56,685.31 L1275.56,685.30 L1276.56,685.29 L1277.56,685.27 L1278.56,685.26 L1279.56,685.25 L1280.56,685.23 L1281.56,685.22 L1282.56,685.20 L1283.56,685.19 L1284.56,685.17 L1285.56,685.15 L1286.56,685.14 L1287.56,685.12 L1288.56,685.10 L1289.56,685.09 L1290.56,685.07 L1291.56,685.05 L1292.57,685.03 L1293.57,685.01 L1294.57,684.99 L1295.57,684.97 L1296.57,684.95 L1297.57,684.93 L1298.57,684.91 L1299.57,684.89 L1300.57,684.87 L1301.57,684.85 L1302.57,684.83 L1303.57,684.80 L1304.57,684.78 L1305.57,684.76 L1306.57,684.73 L1307.57,684.71 L1308.57,684.68 L1309.57,684.66 L1310.57,684.63 L1311.57,684.61 L1312.57,684.58 L1313.57,684.55 L1314.57,684.52 L1315.57,684.49 L1316.57,684.47 L1317.57,684.44 L1318.57,684.41 L1319.57,684.37 L1320.57,684.34 L1321.57,684.31 L1322.58,684.28 L1323.58,684.24 L1324.58,684.21 L1325.58,684.18 L1326.58,684.14 L1327.58,684.10 L1328.58,684.07 L1329.58,684.03 L1330.58,683.99 L1331.58,683.95 L1332.58,683.91 L1333.58,683.87 L1334.58,683.83 L1335.58,683.79 L1336.58,683.75 L1337.58,683.70 L1338.58,683.66 L1339.58,683.61 L1340.58,683.57 L1341.58,683.52 L1342.58,683.47 L1343.58,683.42 L1344.58,683.37 L1345.58,683.32 L1346.58,683.27 L1347.58,683.22 L1348.58,683.16 L1349.58,683.11 L1350.58,683.05 L1351.58,683.00 L1352.59,682.94 L1353.59,682.88 L1354.59,682.82 L1355.59,682.76 L1356.59,682.69 L1357.59,682.63 L1358.59,682.56 L1359.59,682.50 L1360.59,682.43 L1361.59,682.36 L1362.59,682.29 L1363.59,682.22 L1364.59,682.15 L1365.59,682.07 L1366.59,681.99 L1367.59,681.92 L1368.59,681.84 L1369.59,681.76 L1370.59,681.67 L1371.59,681.59 L1372.59,681.51 L1373.59,681.42 L1374.59,681.33 L1375.59,681.24 L1376.59,681.15 L1377.59,681.05 L1378.59,680.96 L1379.59,680.86 L1380.59,680.76 L1381.59,680.66 L1382.60,680.55 L1383.60,680.45 L1384.60,680.34 L1385.60,680.23 L1386.60,680.12 L1387.60,680.01 L1388.60,679.89 L1389.60,679.77 L1390.60,679.65 L1391.60,679.53 L1392.60,679.40 L1393.60,679.28 L1394.60,679.15 L1395.60,679.01 L1396.60,678.88 L1397.60,678.74 L1398.60,678.60 L1399.60,678.45 L1400.60,678.31 L1401.60,678.16 L1402.60,678.01 L1403.60,677.85 L1404.60,677.70 L1405.60,677.53 L1406.60,677.37 L1407.60,677.20 L1408.60,677.03 L1409.60,676.86 L1410.60,676.68 L1411.60,676.50 L1412.61,676.32 L1413.61,676.13 L1414.61,675.94 L1415.61,675.74 L1416.61,675.54 L1417.61,675.34 L1418.61,675.14 L1419.61,674.93 L1420.61,674.71 L1421.61,674.49 L1422.61,674.27 L1423.61,674.04 L1424.61,673.81 L1425.61,673.57 L1426.61,673.33 L1427.61,673.09 L1428.61,672.84 L1429.61,672.58 L1430.61,672.32 L1431.61,672.06 L1432.61,671.79 L1433.61,671.51 L1434.61,671.23 L1435.61,670.95 L1436.61,670.65 L1437.61,670.36 L1438.61,670.05 L1439.61,669.74 L1440.61,669.43 L1441.61,669.11 L1442.62,668.78 L1443.62,668.45 L1444.62,668.11 L1445.62,667.76 L1446.62,667.41 L1447.62,667.05 L1448.62,666.68 L1449.62,666.31 L1450.62,665.92 L1451.62,665.54 L1452.62,665.14 L1453.62,664.73 L1454.62,664.32 L1455.62,663.90 L1456.62,663.47 L1457.62,663.04 L1458.62,662.59 L1459.62,662.14 L1460.62,661.68 L1461.62,661.21 L1462.62,660.73 L1463.62,660.24 L1464.62,659.74 L1465.62,659.23 L1466.62,658.71 L1467.62,658.18 L1468.62,657.64 L1469.62,657.09 L1470.62,656.53 L1471.62,655.96 L1472.62,655.38 L1473.63,654.79 L1474.63,654.18 L1475.63,653.57 L1476.63,652.94 L1477.63,652.30 L1478.63,651.64 L1479.63,650.98 L1480.63,650.30 L1481.63,649.61 L1482.63,648.90 L1483.63,648.18 L1484.63,647.45 L1485.63,646.71 L1486.63,645.94 L1487.63,645.17 L1488.63,644.38 L1489.63,643.57 L1490.63,642.75 L1491.63,641.91 L1492.63,641.06 L1493.63,640.19 L1494.63,639.30 L1495.63,638.39 L1496.63,637.47 L1497.63,636.53 L1498.63,635.57 L1499.63,634.60 L1500.63,633.60 L1501.63,632.58 L1502.63,631.55 L1503.64,630.49 L1504.64,629.42 L1505.64,628.32 L1506.64,627.21 L1507.64,626.07 L1508.64,624.91 L1509.64,623.72 L1510.64,622.52 L1511.64,621.29 L1512.64,620.03 L1513.64,618.75 L1514.64,617.45 L1515.64,616.12 L1516.64,614.77 L1517.64,613.39 L1518.64,611.98 L1519.64,610.55 L1520.64,609.09 L1521.64,607.60 L1522.64,606.08 L1523.64,604.53 L1524.64,602.95 L1525.64,601.34 L1526.64,599.70 L1527.64,598.03 L1528.64,596.33 L1529.64,594.59 L1530.64,592.82 L1531.64,591.01 L1532.64,589.17 L1533.65,587.30 L1534.65,585.38 L1535.65,583.43 L1536.65,581.45 L1537.65,579.42 L1538.65,577.36 L1539.65,575.25 L1540.65,573.11 L1541.65,570.92 L1542.65,568.69 L1543.65,566.42 L1544.65,564.10 L1545.65,561.74 L1546.65,559.33 L1547.65,556.88 L1548.65,554.38 L1549.65,551.83 L1550.65,549.23 L1551.65,546.58 L1552.65,543.88 L1553.65,541.12 L1554.65,538.31 L1555.65,535.45 L1556.65,532.54 L1557.65,529.56 L1558.65,526.53 L1559.65,523.44 L1560.65,520.29 L1561.65,517.08 L1562.65,513.81 L1563.66,510.48 L1564.66,507.08 L1565.66,503.61 L1566.66,500.08 L1567.66,496.47 L1568.66,492.80 L1569.66,489.06 L1570.66,485.24 L1571.66,481.35 L1572.66,477.39 L1573.66,473.35 L1574.66,469.23 L1575.66,465.03 L1576.66,460.75 L1577.66,456.38 L1578.66,451.93 L1579.66,447.40 L1580.66,442.78 L1581.66,438.07 L1582.66,433.26 L1583.66,428.37 L1584.66,423.37 L1585.66,418.29 L1586.66,413.10 L1587.66,407.81 L1588.66,402.42 L1589.66,396.93 L1590.66,391.33 L1591.66,385.62 L1592.66,379.80 L1593.67,373.87 L1594.67,367.82 L1595.67,361.66 L1596.67,355.37 L1597.67,348.97 L1598.67,342.44 L1599.67,335.78 L1600.67,329.00 L1601.67,322.08 L1602.67,315.03 L1603.67,307.84 L1604.67,300.52 L1605.67,293.05 L1606.67,285.44 L1607.67,277.68 L1608.67,269.77 L1609.67,261.70 L1610.67,253.48 L1611.67,245.10 L1612.67,236.56 L1613.67,227.85 L1614.67,218.98 L1615.67,209.93 L1616.67,200.71 L1617.67,191.31 L1618.67,181.72 L1619.67,171.95 L1620.67,161.99 L1621.67,151.84 L1622.68,141.49 L1623.68,130.94 L1624.68,120.19 L1625.68,109.23 L1626.68,98.05 L1627.68,86.66 L1628.68,75.05 L1629.68,63.22 L1630.68,51.15 L1631.68,38.85" fill="none" stroke="#D95319" stroke-width="7.5" stroke-linejoin="round" stroke-linecap="round"/>
<path d="M1097.50,685.74 L1098.50,685.73 L1099.50,685.73 L1100.50,685.72 L1101.50,685.72 L1102.50,685.71 L1103.50,685.71 L1104.50,685.70 L1105.50,685.69 L1106.50,685.69 L1107.50,685.68 L1108.50,685.68 L1109.50,685.67 L1110.50,685.66 L1111.50,685.66 L1112.51,685.65 L1113.51,685.64 L1114.51,685.64 L1115.51,685.63 L1116.51,685.62 L1117.51,685.62 L1118.51,685.61 L1119.51,685.60 L1120.51,685.59 L1121.51,685.59 L1122.51,685.58 L1123.51,685.57 L1124.51,685.56 L1125.51,685.55 L1126.51,685.54 L1127.51,685.53 L1128.51,685.53 L1129.51,685.52 L1130.51,685.51 L1131.51,685.50 L1132.51,685.49 L1133.51,685.48 L1134.51,685.47 L1135.51,685.46 L1136.51,685.45 L1137.51,685.44 L1138.51,685.43 L1139.51,685.41 L1140.51,685.40 L1141.51,685.39 L1142.52,685.38 L1143.52,685.37 L1144.52,685.35 L1145.52,685.34 L1146.52,685.33 L1147.52,685.32 L1148.52,685.30 L1149.52,685.29 L1150.52,685.28 L1151.52,685.26 L1152.52,685.25 L1153.52,685.23 L1154.52,685.22 L1155.52,685.20 L1156.52,685.19 L1157.52,685.17 L1158.52,685.16 L1159.52,685.14 L1160.52,685.12 L1161.52,685.11 L1162.52,685.09 L1163.52,685.07 L1164.52,685.05 L1165.52,685.03 L1166.52,685.02 L1167.52,685.00 L1168.52,684.98 L1169.52,684.96 L1170.52,684.94 L1171.52,684.92 L1172.53,684.90 L1173.53,684.87 L1174.53,684.85 L1175.53,684.83 L1176.53,684.81 L1177.53,684.78 L1178.53,684.76 L1179.53,684.74 L1180.53,684.71 L1181.53,684.69 L1182.53,684.66 L1183.53,684.64 L1184.53,684.61 L1185.53,684.58 L1186.53,684.56 L1187.53,684.53 L1188.53,684.50 L1189.53,684.47 L1190.53,684.44 L1191.53,684.41 L1192.53,684.38 L1193.53,684.35 L1194.53,684.32 L1195.53,684.28 L1196.53,684.25 L1197.53,684.22 L1198.53,684.18 L1199.53,684.15 L1200.53,684.11 L1201.53,684.07 L1202.54,684.04 L1203.54,684.00 L1204.54,683.96 L1205.54,683.92 L1206.54,683.88 L1207.54,683.84 L1208.54,683.80 L1209.54,683.75 L1210.54,683.71 L1211.54,683.67 L1212.54,683.62 L1213.54,683.58 L1214.54,683.53 L1215.54,683.48 L1216.54,683.43 L1217.54,683.38 L1218.54,683.33 L1219.54,683.28 L1220.54,683.23 L1221.54,683.17 L1222.54,683.12 L1223.54,683.06 L1224.54,683.01 L1225.54,682.95 L1226.54,682.89 L1227.54,682.83 L1228.54,682.77 L1229.54,682.70 L1230.54,682.64 L1231.54,682.57 L1232.55,682.51 L1233.55,682.44 L1234.55,682.37 L1235.55,682.30 L1236.55,682.23 L1237.55,682.16 L1238.55,682.08 L1239.55,682.01 L1240.55,681.93 L1241.55,681.85 L1242.55,681.77 L1243.55,681.69 L1244.55,681.60 L1245.55,681.52 L1246.55,681.43 L1247.55,681.34 L1248.55,681.25 L1249.55,681.16 L1250.55,681.07 L1251.55,680.97 L1252.55,680.88 L1253.55,680.78 L1254.55,680.67 L1255.55,680.57 L1256.55,680.47 L1257.55,680.36 L1258.55,680.25 L1259.55,680.14 L1260.55,680.03 L1261.55,679.91 L1262.56,679.79 L1263.56,679.67 L1264.56,679.55 L1265.56,679.42 L1266.56,679.30 L1267.56,679.17 L1268.56,679.03 L1269.56,678.90 L1270.56,678.76 L1271.56,678.62 L1272.56,678.48 L1273.56,678.33 L1274.56,678.18 L1275.56,678.03 L1276.56,677.88 L1277.56,677.72 L1278.56,677.56 L1279.56,677.40 L1280.56,677.23 L1281.56,677.06 L1282.56,676.89 L1283.56,676.71 L1284.56,676.53 L1285.56,676.35 L1286.56,676.16 L1287.56,675.97 L1288.56,675.77 L1289.56,675.58 L1290.56,675.37 L1291.56,675.17 L1292.57,674.96 L1293.57,674.75 L1294.57,674.53 L1295.57,674.31 L1296.57,674.08 L1297.57,673.85 L1298.57,673.61 L1299.57,673.37 L1300.57,673.13 L1301.57,672.88 L1302.57,672.62 L1303.57,672.36 L1304.57,672.10 L1305.57,671.83 L1306.57,671.56 L1307.57,671.28 L1308.57,670.99 L1309.57,670.70 L1310.57,670.40 L1311.57,670.10 L1312.57,669.79 L1313.57,669.48 L1314.57,669.16 L1315.57,668.83 L1316.57,668.50 L1317.57,668.16 L1318.57,667.82 L1319.57,667.46 L1320.57,667.11 L1321.57,666.74 L1322.58,666.37 L1323.58,665.99 L1324.58,665.60 L1325.58,665.20 L1326.58,664.80 L1327.58,664.39 L1328.58,663.97 L1329.58,663.54 L1330.58,663.11 L1331.58,662.67 L1332.58,662.21 L1333.58,661.75 L1334.58,661.28 L1335.58,660.80 L1336.58,660.32 L1337.58,659.82 L1338.58,659.31 L1339.58,658.79 L1340.58,658.27 L1341.58,657.73 L1342.58,657.18 L1343.58,656.62 L1344.58,656.05 L1345.58,655.47 L1346.58,654.88 L1347.58,654.28 L1348.58,653.67 L1349.58,653.04 L1350.58,652.40 L1351.58,651.75 L1352.59,651.09 L1353.59,650.41 L1354.59,649.72 L1355.59,649.02 L1356.59,648.30 L1357.59,647.57 L1358.59,646.83 L1359.59,646.07 L1360.59,645.29 L1361.59,644.50 L1362.59,643.70 L1363.59,642.88 L1364.59,642.05 L1365.59,641.19 L1366.59,640.33 L1367.59,639.44 L1368.59,638.54 L1369.59,637.62 L1370.59,636.68 L1371.59,635.73 L1372.59,634.75 L1373.59,633.76 L1374.59,632.75 L1375.59,631.72 L1376.59,630.67 L1377.59,629.59 L1378.59,628.50 L1379.59,627.39 L1380.59,626.25 L1381.59,625.09 L1382.60,623.91 L1383.60,622.71 L1384.60,621.48 L1385.60,620.23 L1386.60,618.96 L1387.60,617.66 L1388.60,616.34 L1389.60,614.99 L1390.60,613.61 L1391.60,612.21 L1392.60,610.78 L1393.60,609.32 L1394.60,607.84 L1395.60,606.32 L1396.60,604.78 L1397.60,603.21 L1398.60,601.60 L1399.60,599.97 L1400.60,598.30 L1401.60,596.60 L1402.60,594.87 L1403.60,593.10 L1404.60,591.30 L1405.60,589.47 L1406.60,587.60 L1407.60,585.69 L1408.60,583.75 L1409.60,581.77 L1410.60,579.75 L1411.60,577.69 L1412.61,575.59 L1413.61,573.45 L1414.61,571.27 L1415.61,569.05 L1416.61,566.78 L1417.61,564.48 L1418.61,562.12 L1419.61,559.72 L1420.61,557.27 L1421.61,554.78 L1422.61,552.24 L1423.61,549.65 L1424.61,547.01 L1425.61,544.31 L1426.61,541.57 L1427.61,538.77 L1428.61,535.92 L1429.61,533.01 L1430.61,530.05 L1431.61,527.02 L1432.61,523.94 L1433.61,520.80 L1434.61,517.60 L1435.61,514.34 L1436.61,511.02 L1437.61,507.63 L1438.61,504.17 L1439.61,500.65 L1440.61,497.06 L1441.61,493.40 L1442.62,489.66 L1443.62,485.86 L1444.62,481.98 L1445.62,478.03 L1446.62,474.00 L1447.62,469.89 L1448.62,465.71 L1449.62,461.44 L1450.62,457.09 L1451.62,452.66 L1452.62,448.13 L1453.62,443.53 L1454.62,438.83 L1455.62,434.04 L1456.62,429.16 L1457.62,424.18 L1458.62,419.11 L1459.62,413.94 L1460.62,408.67 L1461.62,403.30 L1462.62,397.82 L1463.62,392.24 L1464.62,386.54 L1465.62,380.74 L1466.62,374.83 L1467.62,368.80 L1468.62,362.66 L1469.62,356.39 L1470.62,350.01 L1471.62,343.50 L1472.62,336.86 L1473.63,330.10 L1474.63,323.20 L1475.63,316.17 L1476.63,309.01 L1477.63,301.70 L1478.63,294.26 L1479.63,286.67 L1480.63,278.93 L1481.63,271.05 L1482.63,263.01 L1483.63,254.81 L1484.63,246.46 L1485.63,237.94 L1486.63,229.26 L1487.63,220.42 L1488.63,211.40 L1489.63,202.20 L1490.63,192.83 L1491.63,183.27 L1492.63,173.53 L1493.63,163.61 L1494.63,153.49 L1495.63,143.17 L1496.63,132.65 L1497.63,121.93 L1498.63,111.00 L1499.63,99.86 L1500.63,88.51 L1501.63,76.93 L1502.63,65.13 L1503.64,53.10 L1504.64,40.84" fill="none" stroke="#EDB120" stroke-width="7.5" stroke-linejoin="round" stroke-linecap="round"/>
</svg>
<line x1="1097.5" y1="486.23" x2="1697.7" y2="486.23" stroke="#303030" stroke-width="2.6" stroke-dasharray="9.5 9.05" stroke-dashoffset="1"/>
<text x="1096.50" y="731.00" font-size="27" text-anchor="middle" fill="#3a3a3a">10<tspan dy="-13.50" font-size="20">-2</tspan></text>
<text x="1216.54" y="731.00" font-size="27" text-anchor="middle" fill="#3a3a3a">10<tspan dy="-13.50" font-size="20">-1</tspan></text>
<text x="1336.58" y="731.00" font-size="27" text-anchor="middle" fill="#3a3a3a">10<tspan dy="-13.50" font-size="20">0</tspan></text>
<text x="1456.62" y="731.00" font-size="27" text-anchor="middle" fill="#3a3a3a">10<tspan dy="-13.50" font-size="20">1</tspan></text>
<text x="1576.66" y="731.00" font-size="27" text-anchor="middle" fill="#3a3a3a">10<tspan dy="-13.50" font-size="20">2</tspan></text>
<text x="1696.70" y="731.00" font-size="27" text-anchor="middle" fill="#3a3a3a">10<tspan dy="-13.50" font-size="20">3</tspan></text>
<text x="1106.7" y="771" font-size="29.5" fill="#3a3a3a">Ratio of Catalyst Mass to Adsorbent Mass</text>
<text transform="translate(1022.00,680.20) rotate(-90)" font-size="30" text-anchor="start" fill="#3a3a3a"><tspan >Damkohler Number (m</tspan><tspan dy="14.50" font-size="24.5" letter-spacing="1.0">cat</tspan><tspan dy="-14.50">k</tspan><tspan dy="14.50" font-size="24.5" letter-spacing="1.0">c,sat</tspan><tspan dy="-14.50">/m</tspan><tspan dy="14.50" font-size="24.5" letter-spacing="1.0">ads</tspan><tspan dy="-14.50">k</tspan><tspan dy="14.50" font-size="24.5" letter-spacing="1.0">ads</tspan><tspan dy="-14.50">q</tspan><tspan dy="14.50" font-size="24.5" letter-spacing="1.0">e</tspan><tspan dy="-14.50">)</tspan></text>
<rect x="1109.6" y="98.3" width="345.9" height="112.2" fill="#fff" stroke="#454545" stroke-width="1.6"/>
<line x1="1114.4" y1="116.7" x2="1159.6" y2="116.7" stroke="#0072BD" stroke-width="6.5"/>
<line x1="1114.4" y1="148.3" x2="1159.6" y2="148.3" stroke="#D95319" stroke-width="6.5"/>
<line x1="1114.4" y1="185.9" x2="1159.6" y2="185.9" stroke="#EDB120" stroke-width="6.5"/>
<text x="1162.5" y="128.6" font-size="26" fill="#141414" letter-spacing="0.0" word-spacing="-1.5">MMO &amp; Activated Carbon</text>
<text x="1162.5" y="160.4" font-size="26" fill="#141414" letter-spacing="-0.05" word-spacing="-1.5">Fe-MFI &amp; Zeolite 13X</text>
<text x="1162.5" y="192.7" font-size="26" fill="#141414" letter-spacing="0.2" word-spacing="-1.5">CoO<tspan dy="9.8" font-size="18.5">x</tspan><tspan dy="-9.8">-TiO</tspan><tspan dy="9.8" font-size="18.5">2</tspan><tspan dy="-9.8"> &amp; Basolite</tspan></text>
</svg>
</body></html>
